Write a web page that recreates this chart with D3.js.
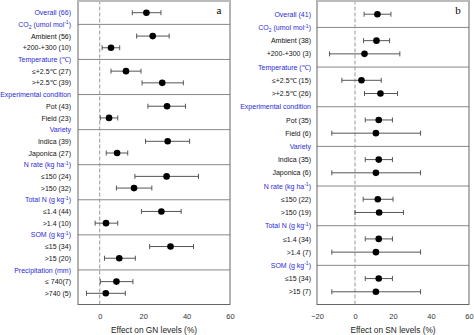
<!DOCTYPE html>
<html>
<head>
<meta charset="utf-8">
<script src="https://cdn.jsdelivr.net/npm/d3@7"></script>
<style>
  body { margin: 0; background: #fff; }
  text { font-family: 'Liberation Sans', Arial, sans-serif; }
</style>
</head>
<body>
<svg width="474" height="335"></svg>
<script>
// panel a: grain number (GN)
const gnRows = ['Overall (66)', 'CO_{2} (umol mol^{-1})', 'Ambient (56)', '+200-+300 (10)',
  'Temperature (℃)', '≤+2.5℃ (27)', '>+2.5℃ (39)', 'Experimental condition', 'Pot (43)', 'Field (23)',
  'Variety', 'Indica (39)', 'Japonica (27)', 'N rate (kg ha^{-1})', '≤150 (24)', '>150 (32)',
  'Total N (g kg^{-1})', '≤1.4 (44)', '>1.4 (10)', 'SOM (g kg^{-1})', '≤15 (34)', '>15 (20)',
  'Precipitation (mm)', '≤ 740(7)', '>740 (5)'];
const gnMean = [21.5, null, 24.4, 5.2, null, 12.1, 28.8, null, 31, 4.3, null, 31.3, 8, null, 30.8, 15.8,
  null, 28.4, 2.9, null, 32.6, 9, null, 7.7, 2.8];
const gnLow = [15, null, 17, 1.1, null, 5.2, 19.5, null, 22.2, 0.3, null, 21.1, 3, null, 16.2, 7.7,
  null, 19.2, -2.1, null, 23, 2.2, null, 0.3, -6.1];
const gnHigh = [28.2, null, 32, 9.2, null, 19, 38.5, null, 39.5, 8.3, null, 41.4, 12.9, null, 45.5, 24,
  null, 37.5, 8.3, null, 43.2, 16.4, null, 15.3, 11.8];

// panel b: spikelet number (SN)
const snRows = ['Overall (41)', 'CO_{2} (umol mol^{-1})', 'Ambient (38)', '+200-+300 (3)',
  'Temperature (℃)', '≤+2.5℃ (15)', '>+2.5℃ (26)', 'Experimental condition', 'Pot (35)', 'Field (6)',
  'Variety', 'Indica (35)', 'Japonica (6)', 'N rate (kg ha^{-1})', '≤150 (22)', '>150 (19)',
  'Total N (g kg^{-1})', '≤1.4 (34)', '>1.4 (7)', 'SOM (g kg^{-1})', '≤15 (34)', '>15 (7)'];
const snMean = [11.8, null, 11.3, 5, null, 3.4, 13.4, null, 12.5, 11, null, 12.5, 11, null, 12, 12.7,
  null, 12.5, 11, null, 12.5, 11];
const snLow = [4.8, null, 4.5, -13.4, null, -6.9, 5, null, 5.4, -12.2, null, 5.4, -12.2, null, 4.3, 0,
  null, 5.4, -12.2, null, 5.4, -12.2];
const snHigh = [18.9, null, 18.2, 23.6, null, 13.8, 22.4, null, 19.7, 34.5, null, 19.7, 34.5, null, 20, 25.5,
  null, 19.7, 34.5, null, 19.7, 34.5];

const gnTicks = [0, 20, 40, 60];
const snTicks = [-20, 0, 20, 40, 60];

const BLUE = '#2b2bd9';
const svg = d3.select('svg');

// write label text with _{sub} and ^{sup} parts
function richText(sel, str) {
  const parts = str.split(/(_\{[^}]*\}|\^\{[^}]*\})/).filter(s => s.length);
  let shift = 0;
  parts.forEach(p => {
    if (p[0] === '_' || p[0] === '^') {
      const dy = p[0] === '^' ? -2.5 : 1.8;
      sel.append('tspan')
        .attr('font-size', 5)
        .attr('dy', dy - shift)
        .text(p.slice(2, -1));
      shift = dy;
    } else {
      const t = sel.append('tspan').text(p);
      if (shift) t.attr('dy', -shift);
      shift = 0;
    }
  });
}

function panel(opts) {
  const { rows, mean, low, high, left, right, domain, ticks, title, letter, labelX } = opts;
  const top = 0.5, bottom = 304.5;

  const x = d3.scaleLinear().domain(domain).range([left, right]);
  const y = d3.scalePoint().domain(d3.range(rows.length)).range([1, 305]).padding(1);

  const g = svg.append('g');

  // separators at the group headers
  g.selectAll('.sep')
    .data(d3.range(rows.length).filter(i => mean[i] == null))
    .join('line')
    .attr('x1', left).attr('x2', right)
    .attr('y1', i => y(i)).attr('y2', i => y(i))
    .attr('stroke', '#888').attr('stroke-width', 1);

  // zero line
  g.append('line')
    .attr('x1', x(0)).attr('x2', x(0))
    .attr('y1', top).attr('y2', bottom)
    .attr('stroke', '#999').attr('stroke-dasharray', '4,2');

  // frame
  g.append('rect')
    .attr('x', left).attr('y', top)
    .attr('width', right - left).attr('height', bottom - top)
    .attr('fill', 'none').attr('stroke', '#666').attr('stroke-width', 1);
  g.append('line')
    .attr('x1', left).attr('x2', right).attr('y1', 1).attr('y2', 1)
    .attr('stroke', '#bbb').attr('stroke-width', 2);

  // row labels
  g.selectAll('.lab')
    .data(rows)
    .join('text')
    .attr('x', labelX)
    .attr('y', (d, i) => y(i) + 2.6)
    .attr('text-anchor', 'end')
    .attr('font-size', 7)
    .attr('fill', (d, i) => (mean[i] == null || i === 0) ? BLUE : '#111')
    .each(function (d) { richText(d3.select(this), d); });

  const idx = d3.range(rows.length).filter(i => mean[i] != null);

  // error bars
  const eb = g.selectAll('.eb').data(idx).join('g').attr('stroke', '#555').attr('stroke-width', 1);
  eb.append('line')
    .attr('x1', i => x(low[i])).attr('x2', i => x(high[i]))
    .attr('y1', i => y(i)).attr('y2', i => y(i));
  eb.append('line')
    .attr('x1', i => x(low[i])).attr('x2', i => x(low[i]))
    .attr('y1', i => y(i) - 2.5).attr('y2', i => y(i) + 2.5);
  eb.append('line')
    .attr('x1', i => x(high[i])).attr('x2', i => x(high[i]))
    .attr('y1', i => y(i) - 2.5).attr('y2', i => y(i) + 2.5);

  g.selectAll('.pt').data(idx).join('circle')
    .attr('cx', i => x(mean[i])).attr('cy', i => y(i))
    .attr('r', 3.3).attr('fill', '#000');

  // x axis
  const ax = g.append('g')
    .attr('transform', `translate(0,${bottom})`)
    .call(d3.axisBottom(x).tickValues(ticks).tickSize(0).tickPadding(9).tickSizeOuter(0));
  ax.select('.domain').remove();
  ax.selectAll('text').attr('font-size', 7.5).attr('fill', '#333')
    .attr('font-family', "'Liberation Sans', Arial, sans-serif");

  g.append('text')
    .attr('x', (left + right) / 2).attr('y', 333)
    .attr('text-anchor', 'middle').attr('font-size', 8.3).attr('fill', '#222')
    .text(title);

  g.append('text')
    .attr('x', right - 11).attr('y', 14)
    .attr('text-anchor', 'middle').attr('font-size', 11)
    .style('font-family', "'Liberation Serif', 'Times New Roman', serif")
    .text(letter);
}

panel({ rows: gnRows, mean: gnMean, low: gnLow, high: gnHigh, left: 78, right: 230,
  domain: [-10, 60], ticks: gnTicks, title: 'Effect on GN levels (%)', letter: 'a', labelX: 71 });
panel({ rows: snRows, mean: snMean, low: snLow, high: snHigh, left: 317, right: 469,
  domain: [-20, 60], ticks: snTicks, title: 'Effect on SN levels (%)', letter: 'b', labelX: 311 });
</script>
</body>
</html>
